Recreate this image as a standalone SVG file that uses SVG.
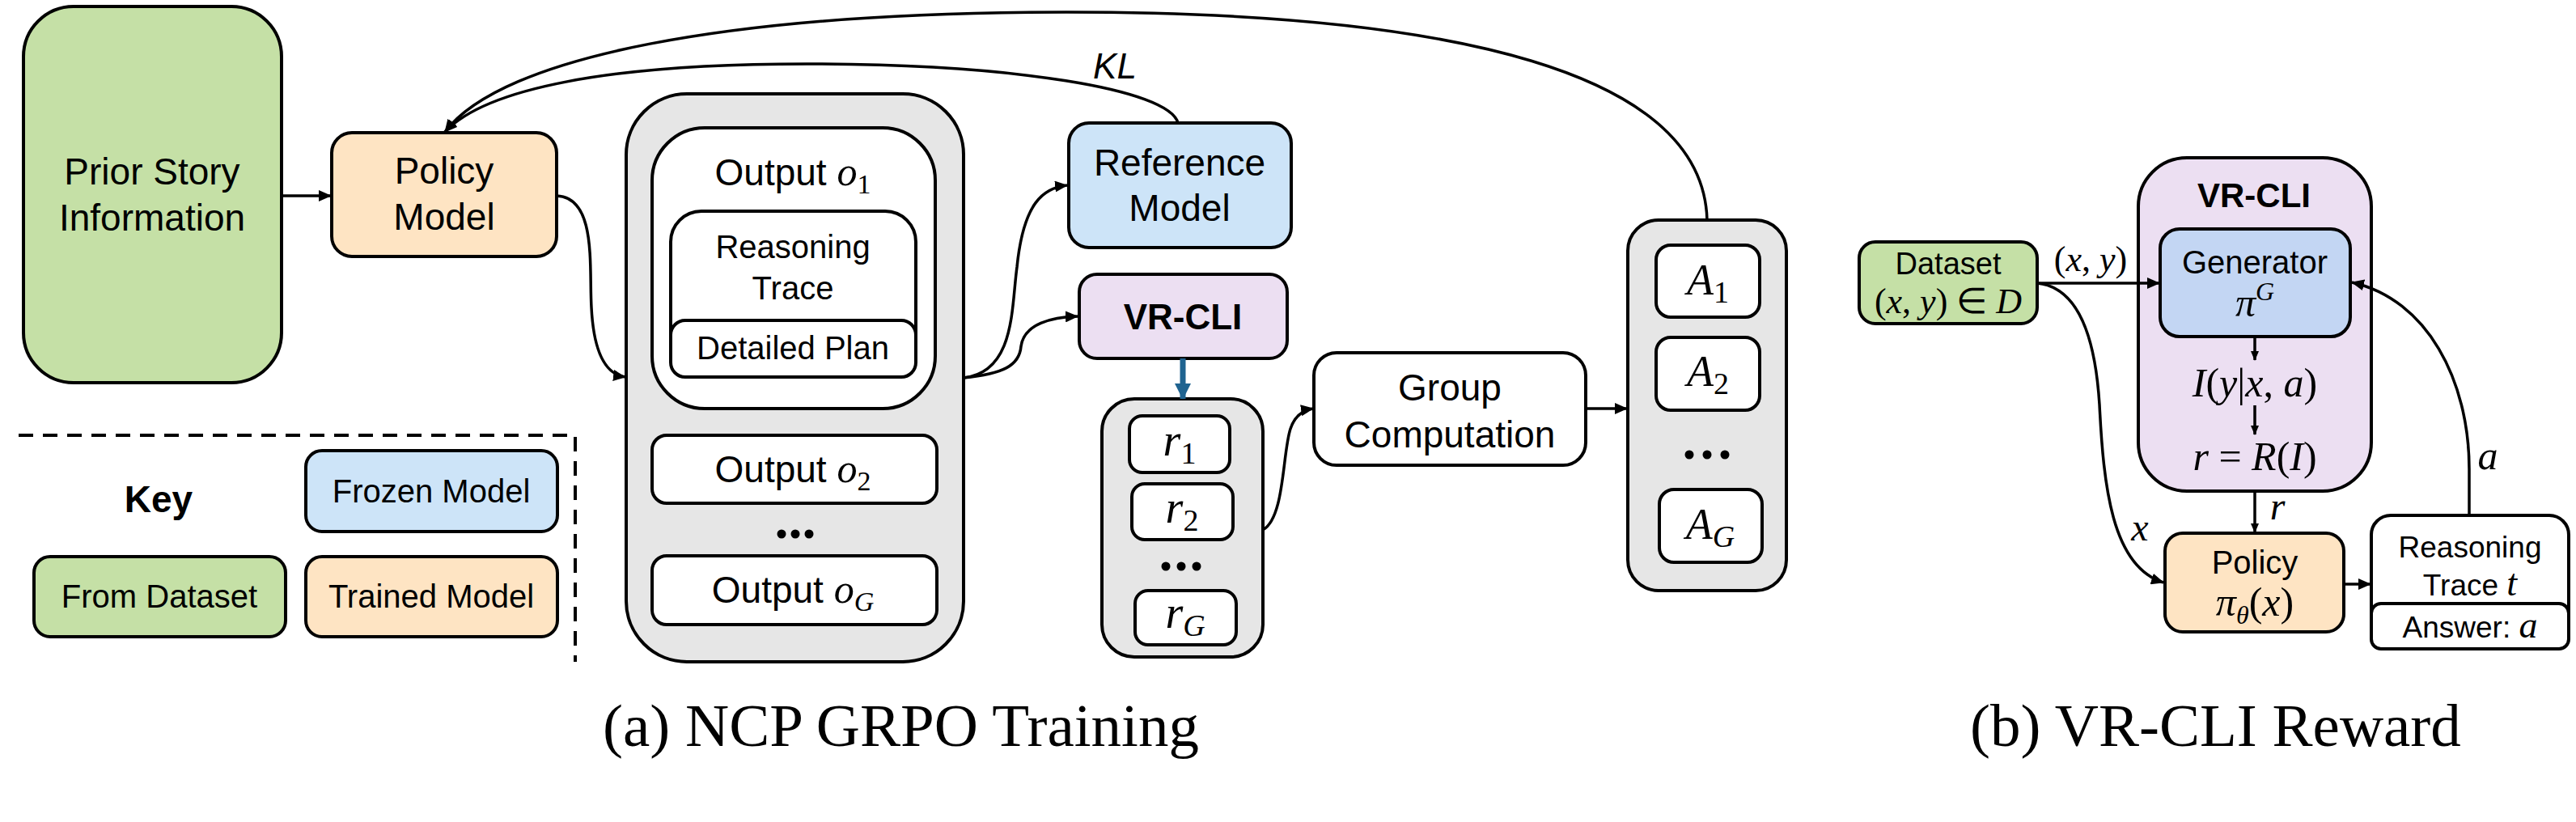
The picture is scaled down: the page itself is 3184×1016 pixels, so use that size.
<svg xmlns="http://www.w3.org/2000/svg" width="3184" height="1016" viewBox="0 0 3184 1016">
<style>
.box{stroke:#000;stroke-width:4}
.white{fill:#fff}
.gray{fill:#e6e6e6}
.green{fill:#c5e0a6}
.orange{fill:#fee4c3}
.blue{fill:#cde4f8}
.purple{fill:#ecdff2}
.gen{fill:#c3d6f3}
.t{font-family:"Liberation Sans",Arial,sans-serif;fill:#000;text-anchor:middle}
.b{font-weight:bold}
.m{font-family:"Liberation Serif","Times New Roman",serif;font-style:italic}
.mu{font-family:"Liberation Serif","Times New Roman",serif;font-style:normal}
.cap{font-family:"Liberation Serif","Times New Roman",serif;font-size:75px;fill:#000}
.conn{fill:none;stroke:#000;stroke-width:3.5}
.dot{fill:#000}
</style>
<defs>
<marker id="ah" viewBox="0 0 16 14" refX="15" refY="7" markerWidth="16" markerHeight="14" markerUnits="userSpaceOnUse" orient="auto"><path d="M0,0 L16,7 L0,14 z" fill="#000"/></marker>
<marker id="ahs" viewBox="0 0 12 10" refX="11" refY="5" markerWidth="12" markerHeight="10" markerUnits="userSpaceOnUse" orient="auto"><path d="M0,0 L12,5 L0,10 z" fill="#000"/></marker>
<marker id="ahb" viewBox="0 0 20 20" refX="19" refY="10" markerWidth="20" markerHeight="20" markerUnits="userSpaceOnUse" orient="auto"><path d="M0,0 L20,10 L0,20 z" fill="#1f6390"/></marker>
</defs>

<!-- Part (a) nodes -->
<g id="prior-story">
<rect class="box green" x="29" y="8" width="319" height="465" rx="62"/>
<text class="t" font-size="46" x="188" y="228">Prior Story</text>
<text class="t" font-size="46" x="188" y="285">Information</text>
</g>
<g id="policy-model">
<rect class="box orange" x="410" y="164" width="278" height="153" rx="25"/>
<text class="t" font-size="46" x="549" y="227">Policy</text>
<text class="t" font-size="46" x="549" y="284">Model</text>
</g>
<g id="outputs">
<rect class="box gray" x="774" y="116" width="417" height="702" rx="75"/>
<rect class="box white" x="806" y="158" width="350" height="347" rx="65"/>
<text class="t" font-size="46" x="980" y="229">Output <tspan class="m" font-size="50">o</tspan><tspan class="mu" font-size="34" dy="10">1</tspan></text>
<rect class="box white" x="829" y="261" width="303" height="205" rx="38"/>
<text class="t" font-size="40" x="980" y="319">Reasoning</text>
<text class="t" font-size="40" x="980" y="370">Trace</text>
<rect class="box white" x="829" y="396" width="303" height="70" rx="18"/>
<text class="t" font-size="40" x="980" y="444">Detailed Plan</text>
<rect class="box white" x="806" y="538" width="352" height="84" rx="18"/>
<text class="t" font-size="46" x="980" y="596">Output <tspan class="m" font-size="50">o</tspan><tspan class="mu" font-size="34" dy="10">2</tspan></text>
<circle class="dot" cx="966" cy="660" r="5.5"/><circle class="dot" cx="983" cy="660" r="5.5"/><circle class="dot" cx="1000" cy="660" r="5.5"/>
<rect class="box white" x="806" y="687" width="352" height="85" rx="18"/>
<text class="t" font-size="46" x="980" y="745">Output <tspan class="m" font-size="50">o</tspan><tspan class="m" font-size="34" dy="10">G</tspan></text>
</g>
<g id="reference-model">
<rect class="box blue" x="1321" y="152" width="275" height="154" rx="25"/>
<text class="t" font-size="46" x="1458" y="217">Reference</text>
<text class="t" font-size="46" x="1458" y="273">Model</text>
</g>
<g id="vr-cli-a">
<rect class="box purple" x="1334" y="339" width="257" height="104" rx="22"/>
<text class="t b" font-size="44" x="1462" y="407">VR-CLI</text>
</g>
<g id="rewards">
<rect class="box gray" x="1362" y="493" width="199" height="319" rx="40"/>
<rect class="box white" x="1396" y="514" width="124" height="70" rx="16"/>
<text class="t" x="1458" y="563"><tspan class="m" font-size="56">r</tspan><tspan class="mu" font-size="38" dy="10">1</tspan></text>
<rect class="box white" x="1399" y="598" width="125" height="69" rx="16"/>
<text class="t" x="1461" y="646"><tspan class="m" font-size="56">r</tspan><tspan class="mu" font-size="38" dy="10">2</tspan></text>
<circle class="dot" cx="1441" cy="700" r="5.5"/><circle class="dot" cx="1460" cy="700" r="5.5"/><circle class="dot" cx="1479" cy="700" r="5.5"/>
<rect class="box white" x="1403" y="730" width="125" height="67" rx="16"/>
<text class="t" x="1465" y="776"><tspan class="m" font-size="56">r</tspan><tspan class="m" font-size="38" dy="10">G</tspan></text>
</g>
<g id="group-computation">
<rect class="box white" x="1624" y="436" width="336" height="139" rx="28"/>
<text class="t" font-size="46" x="1792" y="495">Group</text>
<text class="t" font-size="46" x="1792" y="553">Computation</text>
</g>
<g id="advantages">
<rect class="box gray" x="2012" y="272" width="196" height="458" rx="38"/>
<rect class="box white" x="2047" y="303" width="128" height="89" rx="18"/>
<text class="t" x="2111" y="364"><tspan class="m" font-size="54">A</tspan><tspan class="mu" font-size="38" dy="10">1</tspan></text>
<rect class="box white" x="2047" y="417" width="128" height="90" rx="18"/>
<text class="t" x="2111" y="477"><tspan class="m" font-size="54">A</tspan><tspan class="mu" font-size="38" dy="10">2</tspan></text>
<circle class="dot" cx="2088" cy="562" r="5.5"/><circle class="dot" cx="2110" cy="562" r="5.5"/><circle class="dot" cx="2132" cy="562" r="5.5"/>
<rect class="box white" x="2051" y="605" width="127" height="90" rx="18"/>
<text class="t" x="2114" y="666"><tspan class="m" font-size="54">A</tspan><tspan class="m" font-size="38" dy="10">G</tspan></text>
</g>
<g id="key">
<path d="M23 538 H711 V818" fill="none" stroke="#000" stroke-width="4" stroke-dasharray="18 12"/>
<text class="t b" font-size="46" x="196" y="633">Key</text>
<rect class="box blue" x="378" y="557" width="311" height="100" rx="20"/>
<text class="t" font-size="40" x="533" y="621">Frozen Model</text>
<rect class="box green" x="42" y="688" width="311" height="99" rx="20"/>
<text class="t" font-size="40" x="197" y="751">From Dataset</text>
<rect class="box orange" x="378" y="688" width="311" height="99" rx="20"/>
<text class="t" font-size="40" x="533" y="751">Trained Model</text>
</g>

<!-- Part (b) nodes -->
<g id="dataset">
<rect class="box green" x="2298" y="299" width="220" height="101" rx="20"/>
<text class="t" font-size="38" x="2408" y="339">Dataset</text>
<text class="t" font-size="44" x="2408" y="387"><tspan class="mu">(</tspan><tspan class="m">x</tspan><tspan class="mu">, </tspan><tspan class="m">y</tspan><tspan class="mu">) ∈ </tspan><tspan class="m">D</tspan></text>
</g>
<g id="vr-cli-b">
<rect class="box purple" x="2643" y="195" width="288" height="412" rx="60"/>
<text class="t b" font-size="42" x="2786" y="256">VR-CLI</text>
<text class="t" font-size="50" x="2787" y="490"><tspan class="m">I</tspan><tspan class="mu">(</tspan><tspan class="m">y</tspan><tspan class="mu">|</tspan><tspan class="m">x</tspan><tspan class="mu">, </tspan><tspan class="m">a</tspan><tspan class="mu">)</tspan></text>
<text class="t" font-size="50" x="2787" y="581"><tspan class="m">r</tspan><tspan class="mu"> = </tspan><tspan class="m">R</tspan><tspan class="mu">(</tspan><tspan class="m">I</tspan><tspan class="mu">)</tspan></text>
</g>
<g id="generator">
<rect class="box gen" x="2670" y="283" width="235" height="133" rx="24"/>
<text class="t" font-size="40" x="2787" y="338">Generator</text>
<text class="t" x="2787" y="391"><tspan class="m" font-size="50">π</tspan><tspan class="m" font-size="32" dy="-20">G</tspan></text>
</g>
<g id="policy-b">
<rect class="box orange" x="2676" y="659" width="221" height="122" rx="22"/>
<text class="t" font-size="40" x="2787" y="709">Policy</text>
<text class="t" x="2787" y="761"><tspan class="m" font-size="50">π</tspan><tspan class="m" font-size="32" dy="10">θ</tspan><tspan class="mu" font-size="50" dy="-10">(</tspan><tspan class="m" font-size="50">x</tspan><tspan class="mu" font-size="50">)</tspan></text>
</g>
<g id="reasoning-b">
<rect class="box white" x="2931" y="637" width="244" height="165" rx="24"/>
<text class="t" font-size="37" x="3053" y="689">Reasoning</text>
<text class="t" font-size="37" x="3053" y="736">Trace <tspan class="m" font-size="46">t</tspan></text>
<rect class="box white" x="2931" y="746" width="244" height="56" rx="12"/>
<text class="t" font-size="37" x="3053" y="788">Answer: <tspan class="m" font-size="46">a</tspan></text>
</g>

<!-- Connectors -->
<g id="connectors">
<path class="conn" d="M348 242 H409" marker-end="url(#ah)"/>
<path class="conn" d="M688 242 C738 244 728 330 731 380 C734 440 750 463 773 466" marker-end="url(#ah)"/>
<path class="conn" d="M1191 467 C1255 460 1250 380 1257 330 C1265 250 1290 232 1319 229" marker-end="url(#ah)"/>
<path class="conn" d="M1191 467 C1240 462 1260 452 1262 428 C1266 400 1300 392 1332 391" marker-end="url(#ah)"/>
<path d="M1462 443 V493" fill="none" stroke="#1f6390" stroke-width="7" marker-end="url(#ahb)"/>
<path class="conn" d="M1561 655 C1588 640 1585 560 1595 530 C1600 515 1610 507 1623 505" marker-end="url(#ah)"/>
<path class="conn" d="M1960 505 H2011" marker-end="url(#ah)"/>
<path class="conn" d="M2110 272 C2105 90 1800 15 1318 15 C900 15 620 70 550 163" marker-end="url(#ah)"/>
<path class="conn" d="M1456 152 C1445 110 1250 79 997 79 C750 79 600 110 550 163" marker-end="url(#ah)"/>
<text x="1378" y="97" font-family="Liberation Sans,Arial,sans-serif" font-style="italic" font-size="44" text-anchor="middle">KL</text>

<path class="conn" stroke-width="5" d="M2518 350 H2669" marker-end="url(#ah)"/>
<text class="t" font-size="44" x="2584" y="335"><tspan class="mu">(</tspan><tspan class="m">x</tspan><tspan class="mu">, </tspan><tspan class="m">y</tspan><tspan class="mu">)</tspan></text>
<path class="conn" stroke-width="4.5" d="M2518 350 C2570 355 2590 420 2595 500 C2600 600 2610 700 2674 720" marker-end="url(#ah)"/>
<text class="m" font-size="48" x="2645" y="668" text-anchor="middle">x</text>
<path class="conn" stroke-width="2.5" d="M2787 416 V445" marker-end="url(#ahs)"/>
<path class="conn" stroke-width="2.5" d="M2787 501 V537" marker-end="url(#ahs)"/>
<path class="conn" stroke-width="2.5" d="M2787 607 V658" marker-end="url(#ahs)"/>
<text class="m" font-size="48" x="2815" y="642" text-anchor="middle">r</text>
<path class="conn" stroke-width="5" d="M2897 722 H2930" marker-end="url(#ah)"/>
<path class="conn" stroke-width="4.5" d="M3052 637 L3052 580 C3052 470 3000 370 2907 349" marker-end="url(#ah)"/>
<text class="m" font-size="50" x="3075" y="580" text-anchor="middle">a</text>
</g>

<!-- Captions -->
<text class="cap" x="745" y="922">(a) NCP GRPO Training</text>
<text class="cap" x="2435" y="922">(b) VR-CLI Reward</text>
</svg>
